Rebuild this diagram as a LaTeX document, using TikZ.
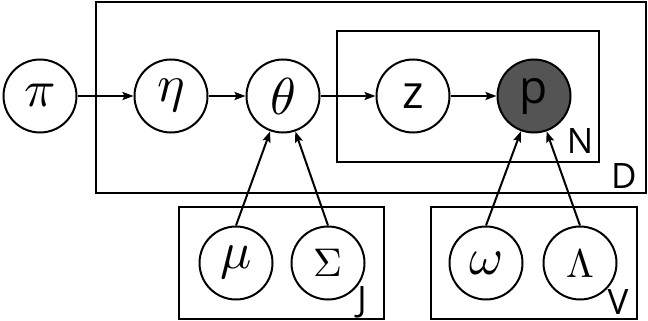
\documentclass[tikz,border=0pt]{standalone}
\usepackage{fontspec}
\usepackage{unicode-math}
\newfontfamily\labelfont{Open Sans}
\usetikzlibrary{arrows.meta}
\begin{document}
\begin{tikzpicture}[x=1pt,y=-1pt,
  var/.style={circle,draw,line width=2pt,minimum size=73pt,inner sep=0pt},
  obs/.style={var,fill=black!67},
  plate/.style={draw,line width=2pt},
  edge/.style={line width=2pt,-{Stealth[length=11pt,width=8pt,inset=2pt]}},
  glk/.style={font=\fontsize{52}{52}\selectfont},
  gcap/.style={font=\fontsize{40}{40}\selectfont},
  sans/.style={font=\labelfont\fontsize{46}{46}\selectfont},
  plabel/.style={font=\labelfont\fontsize{35}{35}\selectfont,inner sep=0pt}]
\useasboundingbox (0,0) rectangle (648,321);
% plates
\draw[plate] (96,2) rectangle (646,193);
\draw[plate] (337,31) rectangle (599,162);
\draw[plate] (179,207) rectangle (384,319);
\draw[plate] (431,207) rectangle (637,319);
% nodes
\node[var,glk] (pi) at (40,96) {$\pi$};
\node[var,glk] (eta) at (171,96) {$\eta$};
\node[var,glk] (theta) at (283,96) {$\theta$};
\node[var,sans] (z) at (413,96) {z};
\node[obs,sans] (p) at (534,96) {p};
\node[var,glk] (mu) at (236,263) {$\mu$};
\node[var,gcap] (sigma) at (328,263) {$\Sigma$};
\node[var,glk] (omega) at (486,263) {$\omega$};
\node[var,gcap] (lambda) at (580,263) {$\Lambda$};
% labels
\node[plabel] (lN) at (580,141) {N};
\node[plabel] (lD) at (624,176) {D};
\node[plabel] (lJ) at (362,302) {J};
\node[plabel] (lV) at (618,302) {V};
% edges
\draw[edge] (pi) -- (eta);
\draw[edge] (eta) -- (theta);
\draw[edge] (theta) -- (z);
\draw[edge] (z) -- (p);
\draw[edge] (mu.north) -- (theta);
\draw[edge] (sigma.north) -- (theta);
\draw[edge] (omega.north) -- (p);
\draw[edge] (lambda.north) -- (p);
\end{tikzpicture}
\end{document}
